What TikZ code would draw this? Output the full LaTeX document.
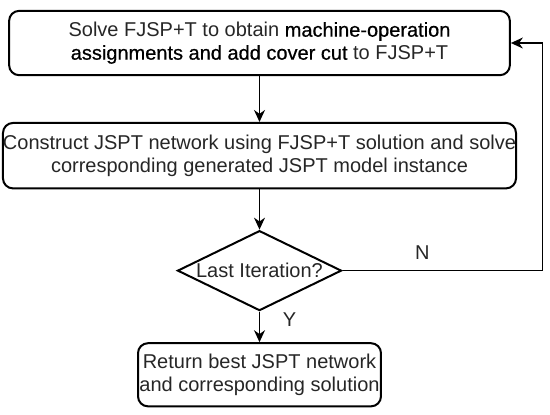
\documentclass[tikz,border=0pt]{standalone}
\usepackage{fontspec}
\setmainfont{Liberation Sans}
\newfontfamily\darkfont{Liberation Sans}[FakeBold=0.6]
\usepackage{tikz}
\usetikzlibrary{shapes.geometric,arrows.meta}
\tikzstyle{process} = [rectangle, draw, line width=1pt, text=black!85, text centered, rounded corners = 5pt, minimum width = 8.8cm, minimum height = 1.13cm, inner sep = 0pt, font = \fontsize{10}{11.5}\selectfont]
\tikzstyle{decision} = [diamond, draw, line width=1pt, text=black!85, text centered, aspect = 2, inner sep = 0pt, minimum width = 82pt, minimum height = 40pt, font = \fontsize{10}{11.5}\selectfont]
\tikzstyle{connector} = [line width=0.65pt, -{Stealth[length=6pt, width=5.5pt]}]
\tikzstyle{branch} = [text=black!85, font = \fontsize{10}{11.5}\selectfont]
\begin{document}
\begin{tikzpicture}[every text node part/.style={align=center}]
        \useasboundingbox (-129.75pt, 21.5pt) rectangle (145.25pt, -185.5pt);
        \node (solve) [process] {Solve FJSP+T to obtain {\darkfont\color{black}machine-operation} \\ {\darkfont\color{black}assignments and add cover cut} to FJSP+T};
        \node (construct) [process, below of = solve, yshift = -0.98cm, minimum height = 1.15cm] {Construct JSPT network using FJSP+T solution and solve \\ corresponding generated JSPT model instance};
        \node (last-iteration) [decision, below of = construct, yshift = -1.02cm] {Last Iteration?};
        \node (return) [process, below of = last-iteration, yshift = -0.83cm, minimum width = 4.27cm, minimum height = 1.11cm] {Return best JSPT network \\ and corresponding solution};
        \draw [connector] (solve) -- (construct);
        \draw [connector] (construct) -- (last-iteration);
        \draw [connector] (last-iteration) -- node[branch, right=8pt, pos=0.25] {Y} (return);
        \draw [connector] (last-iteration.east) -- node[branch, above=2pt, pos=0.4] {N} ++(3.51cm,0) |- (solve.east);
    \end{tikzpicture}
\end{document}
